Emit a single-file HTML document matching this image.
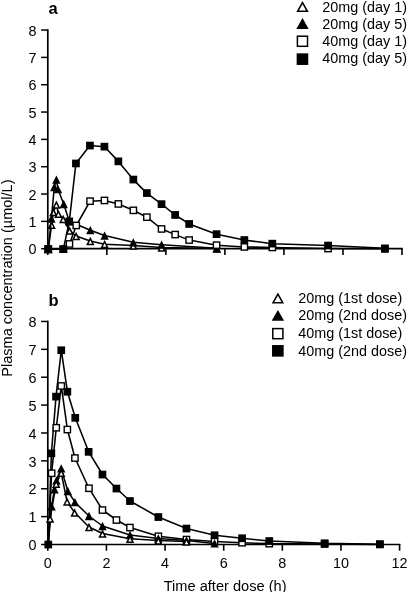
<!DOCTYPE html>
<html lang="en"><head><meta charset="utf-8"><title>Plasma concentration</title>
<style>html,body{margin:0;padding:0;background:#fff}svg{display:block}text{font-family:"Liberation Sans", Arial, sans-serif}</style>
</head><body>
<svg width="407" height="592" viewBox="0 0 407 592" font-family='"Liberation Sans", Arial, sans-serif' font-size="14.4" fill="#000">
<rect width="407" height="592" fill="#fff"/>
<line x1="47.8" y1="29.2" x2="47.8" y2="249.54999999999998" stroke="#000" stroke-width="1.7"/>
<line x1="46.949999999999996" y1="248.7" x2="402.8" y2="248.7" stroke="#000" stroke-width="1.7"/>
<line x1="41.099999999999994" y1="248.70" x2="47.8" y2="248.70" stroke="#000" stroke-width="1.5"/>
<text x="36.6" y="254.3" text-anchor="end">0</text>
<line x1="41.099999999999994" y1="221.37" x2="47.8" y2="221.37" stroke="#000" stroke-width="1.5"/>
<text x="36.6" y="227.0" text-anchor="end">1</text>
<line x1="41.099999999999994" y1="194.04" x2="47.8" y2="194.04" stroke="#000" stroke-width="1.5"/>
<text x="36.6" y="199.6" text-anchor="end">2</text>
<line x1="41.099999999999994" y1="166.71" x2="47.8" y2="166.71" stroke="#000" stroke-width="1.5"/>
<text x="36.6" y="172.3" text-anchor="end">3</text>
<line x1="41.099999999999994" y1="139.38" x2="47.8" y2="139.38" stroke="#000" stroke-width="1.5"/>
<text x="36.6" y="145.0" text-anchor="end">4</text>
<line x1="41.099999999999994" y1="112.05" x2="47.8" y2="112.05" stroke="#000" stroke-width="1.5"/>
<text x="36.6" y="117.7" text-anchor="end">5</text>
<line x1="41.099999999999994" y1="84.72" x2="47.8" y2="84.72" stroke="#000" stroke-width="1.5"/>
<text x="36.6" y="90.3" text-anchor="end">6</text>
<line x1="41.099999999999994" y1="57.39" x2="47.8" y2="57.39" stroke="#000" stroke-width="1.5"/>
<text x="36.6" y="63.0" text-anchor="end">7</text>
<line x1="41.099999999999994" y1="30.06" x2="47.8" y2="30.06" stroke="#000" stroke-width="1.5"/>
<text x="36.6" y="35.7" text-anchor="end">8</text>
<line x1="47.80" y1="248.7" x2="47.80" y2="254.89999999999998" stroke="#000" stroke-width="1.6"/>
<line x1="106.83" y1="248.7" x2="106.83" y2="254.89999999999998" stroke="#000" stroke-width="1.6"/>
<line x1="165.87" y1="248.7" x2="165.87" y2="254.89999999999998" stroke="#000" stroke-width="1.6"/>
<line x1="224.90" y1="248.7" x2="224.90" y2="254.89999999999998" stroke="#000" stroke-width="1.6"/>
<line x1="283.93" y1="248.7" x2="283.93" y2="254.89999999999998" stroke="#000" stroke-width="1.6"/>
<line x1="342.97" y1="248.7" x2="342.97" y2="254.89999999999998" stroke="#000" stroke-width="1.6"/>
<line x1="402.00" y1="248.7" x2="402.00" y2="254.89999999999998" stroke="#000" stroke-width="1.6"/>
<polyline points="48.3,249.0 51.6,224.9 53.4,212.0 56.4,204.7 58.4,213.8 63.2,219.0 69.6,230.5 76.1,236.0 90.3,241.0 104.6,244.2 133.3,245.5 161.6,247.5 217.0,248.6" fill="none" stroke="#000" stroke-width="1.55" stroke-linejoin="round"/>
<polygon points="48.30,244.85 52.50,253.15 44.10,253.15" fill="#000"/><polygon points="48.30,248.17 50.06,251.65 46.54,251.65" fill="#fff"/>
<polygon points="51.60,220.75 55.80,229.05 47.40,229.05" fill="#000"/><polygon points="51.60,224.07 53.36,227.55 49.84,227.55" fill="#fff"/>
<polygon points="53.40,207.85 57.60,216.15 49.20,216.15" fill="#000"/><polygon points="53.40,211.17 55.16,214.65 51.64,214.65" fill="#fff"/>
<polygon points="56.40,200.55 60.60,208.85 52.20,208.85" fill="#000"/><polygon points="56.40,203.87 58.16,207.35 54.64,207.35" fill="#fff"/>
<polygon points="58.40,209.65 62.60,217.95 54.20,217.95" fill="#000"/><polygon points="58.40,212.97 60.16,216.45 56.64,216.45" fill="#fff"/>
<polygon points="63.20,214.85 67.40,223.15 59.00,223.15" fill="#000"/><polygon points="63.20,218.17 64.96,221.65 61.44,221.65" fill="#fff"/>
<polygon points="69.60,226.35 73.80,234.65 65.40,234.65" fill="#000"/><polygon points="69.60,229.67 71.36,233.15 67.84,233.15" fill="#fff"/>
<polygon points="76.10,231.85 80.30,240.15 71.90,240.15" fill="#000"/><polygon points="76.10,235.17 77.86,238.65 74.34,238.65" fill="#fff"/>
<polygon points="90.30,236.85 94.50,245.15 86.10,245.15" fill="#000"/><polygon points="90.30,240.17 92.06,243.65 88.54,243.65" fill="#fff"/>
<polygon points="104.60,240.05 108.80,248.35 100.40,248.35" fill="#000"/><polygon points="104.60,243.37 106.36,246.85 102.84,246.85" fill="#fff"/>
<polygon points="133.30,241.35 137.50,249.65 129.10,249.65" fill="#000"/><polygon points="133.30,244.67 135.06,248.15 131.54,248.15" fill="#fff"/>
<polygon points="161.60,243.35 165.80,251.65 157.40,251.65" fill="#000"/><polygon points="161.60,246.67 163.36,250.15 159.84,250.15" fill="#fff"/>
<polygon points="217.00,244.45 221.20,252.75 212.80,252.75" fill="#000"/><polygon points="217.00,247.77 218.76,251.25 215.24,251.25" fill="#fff"/>
<polyline points="48.3,249.0 51.4,218.5 54.3,187.0 56.4,179.6 58.0,189.2 63.7,204.0 69.3,221.3 90.3,230.2 104.6,235.6 133.3,242.3 161.6,244.7 216.6,248.3" fill="none" stroke="#000" stroke-width="1.55" stroke-linejoin="round"/>
<polygon points="48.30,244.85 52.50,253.15 44.10,253.15" fill="#000"/>
<polygon points="51.40,214.35 55.60,222.65 47.20,222.65" fill="#000"/>
<polygon points="54.30,182.85 58.50,191.15 50.10,191.15" fill="#000"/>
<polygon points="56.40,175.45 60.60,183.75 52.20,183.75" fill="#000"/>
<polygon points="58.00,185.05 62.20,193.35 53.80,193.35" fill="#000"/>
<polygon points="63.70,199.85 67.90,208.15 59.50,208.15" fill="#000"/>
<polygon points="69.30,217.15 73.50,225.45 65.10,225.45" fill="#000"/>
<polygon points="90.30,226.05 94.50,234.35 86.10,234.35" fill="#000"/>
<polygon points="104.60,231.45 108.80,239.75 100.40,239.75" fill="#000"/>
<polygon points="133.30,238.15 137.50,246.45 129.10,246.45" fill="#000"/>
<polygon points="161.60,240.55 165.80,248.85 157.40,248.85" fill="#000"/>
<polygon points="216.60,244.15 220.80,252.45 212.40,252.45" fill="#000"/>
<polyline points="48.3,249.0 63.4,249.2 69.5,243.9 76.3,225.5 90.1,201.2 104.5,200.5 118.4,204.0 133.3,210.3 146.8,217.2 161.6,229.0 175.2,234.6 189.2,240.1 216.6,245.2 244.3,246.9 272.4,247.5 328.0,248.6 384.8,248.8" fill="none" stroke="#000" stroke-width="1.55" stroke-linejoin="round"/>
<rect x="45.1" y="245.8" width="6.3" height="6.3" fill="#fff" stroke="#000" stroke-width="1.4"/>
<rect x="60.2" y="246.0" width="6.3" height="6.3" fill="#fff" stroke="#000" stroke-width="1.4"/>
<rect x="66.3" y="240.8" width="6.3" height="6.3" fill="#fff" stroke="#000" stroke-width="1.4"/>
<rect x="73.1" y="222.3" width="6.3" height="6.3" fill="#fff" stroke="#000" stroke-width="1.4"/>
<rect x="86.9" y="198.0" width="6.3" height="6.3" fill="#fff" stroke="#000" stroke-width="1.4"/>
<rect x="101.3" y="197.3" width="6.3" height="6.3" fill="#fff" stroke="#000" stroke-width="1.4"/>
<rect x="115.2" y="200.8" width="6.3" height="6.3" fill="#fff" stroke="#000" stroke-width="1.4"/>
<rect x="130.2" y="207.2" width="6.3" height="6.3" fill="#fff" stroke="#000" stroke-width="1.4"/>
<rect x="143.7" y="214.0" width="6.3" height="6.3" fill="#fff" stroke="#000" stroke-width="1.4"/>
<rect x="158.4" y="225.8" width="6.3" height="6.3" fill="#fff" stroke="#000" stroke-width="1.4"/>
<rect x="172.0" y="231.4" width="6.3" height="6.3" fill="#fff" stroke="#000" stroke-width="1.4"/>
<rect x="186.0" y="236.9" width="6.3" height="6.3" fill="#fff" stroke="#000" stroke-width="1.4"/>
<rect x="213.4" y="242.0" width="6.3" height="6.3" fill="#fff" stroke="#000" stroke-width="1.4"/>
<rect x="241.2" y="243.8" width="6.3" height="6.3" fill="#fff" stroke="#000" stroke-width="1.4"/>
<rect x="269.2" y="244.3" width="6.3" height="6.3" fill="#fff" stroke="#000" stroke-width="1.4"/>
<rect x="324.9" y="245.4" width="6.3" height="6.3" fill="#fff" stroke="#000" stroke-width="1.4"/>
<rect x="381.7" y="245.7" width="6.3" height="6.3" fill="#fff" stroke="#000" stroke-width="1.4"/>
<polyline points="48.3,248.8 63.4,249.2 69.3,221.3 75.9,163.5 89.9,145.6 104.5,146.7 118.4,161.4 133.3,179.6 146.8,193.1 161.6,204.2 175.2,215.0 189.2,223.9 216.6,234.2 244.3,240.1 272.4,243.7 328.0,245.6 384.8,248.3" fill="none" stroke="#000" stroke-width="1.55" stroke-linejoin="round"/>
<rect x="45.1" y="245.7" width="6.3" height="6.3" fill="#000" stroke="#000" stroke-width="1.4"/>
<rect x="60.2" y="246.0" width="6.3" height="6.3" fill="#000" stroke="#000" stroke-width="1.4"/>
<rect x="66.1" y="218.2" width="6.3" height="6.3" fill="#000" stroke="#000" stroke-width="1.4"/>
<rect x="72.8" y="160.3" width="6.3" height="6.3" fill="#000" stroke="#000" stroke-width="1.4"/>
<rect x="86.8" y="142.4" width="6.3" height="6.3" fill="#000" stroke="#000" stroke-width="1.4"/>
<rect x="101.3" y="143.5" width="6.3" height="6.3" fill="#000" stroke="#000" stroke-width="1.4"/>
<rect x="115.2" y="158.2" width="6.3" height="6.3" fill="#000" stroke="#000" stroke-width="1.4"/>
<rect x="130.2" y="176.4" width="6.3" height="6.3" fill="#000" stroke="#000" stroke-width="1.4"/>
<rect x="143.7" y="189.9" width="6.3" height="6.3" fill="#000" stroke="#000" stroke-width="1.4"/>
<rect x="158.4" y="201.0" width="6.3" height="6.3" fill="#000" stroke="#000" stroke-width="1.4"/>
<rect x="172.0" y="211.8" width="6.3" height="6.3" fill="#000" stroke="#000" stroke-width="1.4"/>
<rect x="186.0" y="220.8" width="6.3" height="6.3" fill="#000" stroke="#000" stroke-width="1.4"/>
<rect x="213.4" y="231.0" width="6.3" height="6.3" fill="#000" stroke="#000" stroke-width="1.4"/>
<rect x="241.2" y="236.9" width="6.3" height="6.3" fill="#000" stroke="#000" stroke-width="1.4"/>
<rect x="269.2" y="240.5" width="6.3" height="6.3" fill="#000" stroke="#000" stroke-width="1.4"/>
<rect x="324.9" y="242.4" width="6.3" height="6.3" fill="#000" stroke="#000" stroke-width="1.4"/>
<rect x="381.7" y="245.2" width="6.3" height="6.3" fill="#000" stroke="#000" stroke-width="1.4"/>
<line x1="47.8" y1="320.7" x2="47.8" y2="545.35" stroke="#000" stroke-width="1.7"/>
<line x1="46.949999999999996" y1="544.5" x2="400.40000000000003" y2="544.5" stroke="#000" stroke-width="1.7"/>
<line x1="41.099999999999994" y1="544.50" x2="47.8" y2="544.50" stroke="#000" stroke-width="1.5"/>
<text x="36.6" y="550.1" text-anchor="end">0</text>
<line x1="41.099999999999994" y1="516.62" x2="47.8" y2="516.62" stroke="#000" stroke-width="1.5"/>
<text x="36.6" y="522.2" text-anchor="end">1</text>
<line x1="41.099999999999994" y1="488.74" x2="47.8" y2="488.74" stroke="#000" stroke-width="1.5"/>
<text x="36.6" y="494.3" text-anchor="end">2</text>
<line x1="41.099999999999994" y1="460.86" x2="47.8" y2="460.86" stroke="#000" stroke-width="1.5"/>
<text x="36.6" y="466.5" text-anchor="end">3</text>
<line x1="41.099999999999994" y1="432.98" x2="47.8" y2="432.98" stroke="#000" stroke-width="1.5"/>
<text x="36.6" y="438.6" text-anchor="end">4</text>
<line x1="41.099999999999994" y1="405.10" x2="47.8" y2="405.10" stroke="#000" stroke-width="1.5"/>
<text x="36.6" y="410.7" text-anchor="end">5</text>
<line x1="41.099999999999994" y1="377.22" x2="47.8" y2="377.22" stroke="#000" stroke-width="1.5"/>
<text x="36.6" y="382.8" text-anchor="end">6</text>
<line x1="41.099999999999994" y1="349.34" x2="47.8" y2="349.34" stroke="#000" stroke-width="1.5"/>
<text x="36.6" y="354.9" text-anchor="end">7</text>
<line x1="41.099999999999994" y1="321.46" x2="47.8" y2="321.46" stroke="#000" stroke-width="1.5"/>
<text x="36.6" y="327.1" text-anchor="end">8</text>
<line x1="47.80" y1="544.5" x2="47.80" y2="550.7" stroke="#000" stroke-width="1.6"/>
<text x="47.8" y="567.9" text-anchor="middle">0</text>
<line x1="106.43" y1="544.5" x2="106.43" y2="550.7" stroke="#000" stroke-width="1.6"/>
<text x="106.4" y="567.9" text-anchor="middle">2</text>
<line x1="165.07" y1="544.5" x2="165.07" y2="550.7" stroke="#000" stroke-width="1.6"/>
<text x="165.1" y="567.9" text-anchor="middle">4</text>
<line x1="223.70" y1="544.5" x2="223.70" y2="550.7" stroke="#000" stroke-width="1.6"/>
<text x="223.7" y="567.9" text-anchor="middle">6</text>
<line x1="282.33" y1="544.5" x2="282.33" y2="550.7" stroke="#000" stroke-width="1.6"/>
<text x="282.3" y="567.9" text-anchor="middle">8</text>
<line x1="340.97" y1="544.5" x2="340.97" y2="550.7" stroke="#000" stroke-width="1.6"/>
<text x="341.0" y="567.9" text-anchor="middle">10</text>
<line x1="399.60" y1="544.5" x2="399.60" y2="550.7" stroke="#000" stroke-width="1.6"/>
<text x="399.6" y="567.9" text-anchor="middle">12</text>
<polyline points="48.3,544.5 51.4,453.3 56.0,396.6 61.3,350.2 67.4,391.7 75.3,417.8 88.7,451.8 102.5,474.5 116.5,488.5 130.0,501.0 158.3,517.0 186.5,528.5 214.6,535.2 242.1,538.3 269.2,541.0 324.6,543.3 379.8,544.3" fill="none" stroke="#000" stroke-width="1.55" stroke-linejoin="round"/>
<polyline points="48.3,544.5 51.6,473.2 56.3,427.7 61.3,385.9 67.4,429.5 75.0,458.0 88.9,488.2 102.5,510.0 116.5,520.0 130.0,527.5 158.3,536.2 186.5,539.5 214.6,541.5 242.1,542.8 269.2,543.6 324.6,544.0 379.8,544.4" fill="none" stroke="#000" stroke-width="1.55" stroke-linejoin="round"/>
<rect x="48.5" y="470.1" width="6.3" height="6.3" fill="#fff" stroke="#000" stroke-width="1.4"/>
<rect x="53.1" y="424.6" width="6.3" height="6.3" fill="#fff" stroke="#000" stroke-width="1.4"/>
<rect x="58.1" y="382.8" width="6.3" height="6.3" fill="#fff" stroke="#000" stroke-width="1.4"/>
<rect x="64.2" y="426.4" width="6.3" height="6.3" fill="#fff" stroke="#000" stroke-width="1.4"/>
<rect x="71.8" y="454.9" width="6.3" height="6.3" fill="#fff" stroke="#000" stroke-width="1.4"/>
<rect x="85.8" y="485.1" width="6.3" height="6.3" fill="#fff" stroke="#000" stroke-width="1.4"/>
<rect x="99.3" y="506.9" width="6.3" height="6.3" fill="#fff" stroke="#000" stroke-width="1.4"/>
<rect x="113.3" y="516.9" width="6.3" height="6.3" fill="#fff" stroke="#000" stroke-width="1.4"/>
<rect x="126.8" y="524.4" width="6.3" height="6.3" fill="#fff" stroke="#000" stroke-width="1.4"/>
<rect x="155.2" y="533.1" width="6.3" height="6.3" fill="#fff" stroke="#000" stroke-width="1.4"/>
<rect x="183.3" y="536.4" width="6.3" height="6.3" fill="#fff" stroke="#000" stroke-width="1.4"/>
<rect x="211.4" y="538.4" width="6.3" height="6.3" fill="#fff" stroke="#000" stroke-width="1.4"/>
<rect x="238.9" y="539.6" width="6.3" height="6.3" fill="#fff" stroke="#000" stroke-width="1.4"/>
<rect x="266.1" y="540.5" width="6.3" height="6.3" fill="#fff" stroke="#000" stroke-width="1.4"/>
<rect x="321.5" y="540.9" width="6.3" height="6.3" fill="#fff" stroke="#000" stroke-width="1.4"/>
<rect x="376.7" y="541.2" width="6.3" height="6.3" fill="#fff" stroke="#000" stroke-width="1.4"/>
<rect x="45.1" y="541.4" width="6.3" height="6.3" fill="#000" stroke="#000" stroke-width="1.4"/>
<rect x="48.2" y="450.2" width="6.3" height="6.3" fill="#000" stroke="#000" stroke-width="1.4"/>
<rect x="52.9" y="393.5" width="6.3" height="6.3" fill="#000" stroke="#000" stroke-width="1.4"/>
<rect x="58.1" y="347.1" width="6.3" height="6.3" fill="#000" stroke="#000" stroke-width="1.4"/>
<rect x="64.2" y="388.6" width="6.3" height="6.3" fill="#000" stroke="#000" stroke-width="1.4"/>
<rect x="72.1" y="414.7" width="6.3" height="6.3" fill="#000" stroke="#000" stroke-width="1.4"/>
<rect x="85.5" y="448.7" width="6.3" height="6.3" fill="#000" stroke="#000" stroke-width="1.4"/>
<rect x="99.3" y="471.4" width="6.3" height="6.3" fill="#000" stroke="#000" stroke-width="1.4"/>
<rect x="113.3" y="485.4" width="6.3" height="6.3" fill="#000" stroke="#000" stroke-width="1.4"/>
<rect x="126.8" y="497.9" width="6.3" height="6.3" fill="#000" stroke="#000" stroke-width="1.4"/>
<rect x="155.2" y="513.9" width="6.3" height="6.3" fill="#000" stroke="#000" stroke-width="1.4"/>
<rect x="183.3" y="525.4" width="6.3" height="6.3" fill="#000" stroke="#000" stroke-width="1.4"/>
<rect x="211.4" y="532.1" width="6.3" height="6.3" fill="#000" stroke="#000" stroke-width="1.4"/>
<rect x="238.9" y="535.1" width="6.3" height="6.3" fill="#000" stroke="#000" stroke-width="1.4"/>
<rect x="266.1" y="537.9" width="6.3" height="6.3" fill="#000" stroke="#000" stroke-width="1.4"/>
<rect x="321.5" y="540.1" width="6.3" height="6.3" fill="#000" stroke="#000" stroke-width="1.4"/>
<rect x="376.7" y="541.1" width="6.3" height="6.3" fill="#000" stroke="#000" stroke-width="1.4"/>
<polyline points="48.2,544.3 51.6,506.3 54.5,489.3 56.4,480.5 61.2,468.4 67.8,491.0 74.9,502.2 89.0,516.0 102.5,526.0 130.0,535.0 158.3,538.5 186.5,540.5 214.6,543.4" fill="none" stroke="#000" stroke-width="1.55" stroke-linejoin="round"/>
<polygon points="51.60,502.15 55.80,510.45 47.40,510.45" fill="#000"/>
<polygon points="54.50,485.15 58.70,493.45 50.30,493.45" fill="#000"/>
<polygon points="56.40,476.35 60.60,484.65 52.20,484.65" fill="#000"/>
<polygon points="61.20,464.25 65.40,472.55 57.00,472.55" fill="#000"/>
<polygon points="67.80,486.85 72.00,495.15 63.60,495.15" fill="#000"/>
<polygon points="74.90,498.05 79.10,506.35 70.70,506.35" fill="#000"/>
<polygon points="89.00,511.85 93.20,520.15 84.80,520.15" fill="#000"/>
<polygon points="102.50,521.85 106.70,530.15 98.30,530.15" fill="#000"/>
<polygon points="130.00,530.85 134.20,539.15 125.80,539.15" fill="#000"/>
<polygon points="158.30,534.35 162.50,542.65 154.10,542.65" fill="#000"/>
<polygon points="186.50,536.35 190.70,544.65 182.30,544.65" fill="#000"/>
<polygon points="214.60,539.25 218.80,547.55 210.40,547.55" fill="#000"/>
<polyline points="48.2,544.3 50.1,518.5 56.2,483.8 61.2,472.8 67.1,501.7 74.6,512.5 89.0,527.0 102.5,533.5 130.0,538.8 158.3,540.5 186.5,541.6" fill="none" stroke="#000" stroke-width="1.55" stroke-linejoin="round"/>
<polygon points="50.10,514.35 54.30,522.65 45.90,522.65" fill="#000"/><polygon points="50.10,517.67 51.86,521.15 48.34,521.15" fill="#fff"/>
<polygon points="56.20,479.65 60.40,487.95 52.00,487.95" fill="#000"/><polygon points="56.20,482.97 57.96,486.45 54.44,486.45" fill="#fff"/>
<polygon points="61.20,468.65 65.40,476.95 57.00,476.95" fill="#000"/><polygon points="61.20,471.97 62.96,475.45 59.44,475.45" fill="#fff"/>
<polygon points="67.10,497.55 71.30,505.85 62.90,505.85" fill="#000"/><polygon points="67.10,500.87 68.86,504.35 65.34,504.35" fill="#fff"/>
<polygon points="74.60,508.35 78.80,516.65 70.40,516.65" fill="#000"/><polygon points="74.60,511.67 76.36,515.15 72.84,515.15" fill="#fff"/>
<polygon points="89.00,522.85 93.20,531.15 84.80,531.15" fill="#000"/><polygon points="89.00,526.17 90.76,529.65 87.24,529.65" fill="#fff"/>
<polygon points="102.50,529.35 106.70,537.65 98.30,537.65" fill="#000"/><polygon points="102.50,532.67 104.26,536.15 100.74,536.15" fill="#fff"/>
<polygon points="130.00,534.65 134.20,542.95 125.80,542.95" fill="#000"/><polygon points="130.00,537.97 131.76,541.45 128.24,541.45" fill="#fff"/>
<polygon points="158.30,536.35 162.50,544.65 154.10,544.65" fill="#000"/><polygon points="158.30,539.67 160.06,543.15 156.54,543.15" fill="#fff"/>
<polygon points="186.50,537.45 190.70,545.75 182.30,545.75" fill="#000"/><polygon points="186.50,540.77 188.26,544.25 184.74,544.25" fill="#fff"/>
<polygon points="302.50,1.05 308.70,11.95 296.30,11.95" fill="#000"/><polygon points="302.50,4.18 306.04,10.40 298.96,10.40" fill="#fff"/>
<text x="322.3" y="11.5">20mg (day 1)</text>
<polygon points="302.50,18.05 308.70,28.95 296.30,28.95" fill="#000"/>
<text x="322.3" y="28.7">20mg (day 5)</text>
<rect x="297.4" y="36.2" width="10.1" height="10.1" fill="#fff" stroke="#000" stroke-width="1.5"/>
<text x="322.3" y="46.0">40mg (day 1)</text>
<rect x="297.4" y="54.1" width="10.1" height="10.1" fill="#000" stroke="#000" stroke-width="1.5"/>
<text x="322.3" y="63.4">40mg (day 5)</text>
<polygon points="277.90,292.55 284.10,303.45 271.70,303.45" fill="#000"/><polygon points="277.90,295.68 281.44,301.90 274.36,301.90" fill="#fff"/>
<text x="298.2" y="303.2">20mg (1st dose)</text>
<polygon points="277.90,309.95 284.10,320.85 271.70,320.85" fill="#000"/>
<text x="298.2" y="320.4">20mg (2nd dose)</text>
<rect x="272.8" y="328.6" width="10.1" height="10.1" fill="#fff" stroke="#000" stroke-width="1.5"/>
<text x="298.2" y="337.8">40mg (1st dose)</text>
<rect x="272.8" y="345.8" width="10.1" height="10.1" fill="#000" stroke="#000" stroke-width="1.5"/>
<text x="298.2" y="355.5">40mg (2nd dose)</text>
<text x="48.5" y="13.6" font-weight="bold" font-size="16.5">a</text>
<text x="48.5" y="305.8" font-weight="bold" font-size="16.5">b</text>
<text x="225.1" y="590.5" text-anchor="middle" font-size="14.62">Time after dose (h)</text>
<text transform="translate(11.7,278.1) rotate(-90)" text-anchor="middle" font-size="14.52">Plasma concentration (µmol/L)</text>
</svg>
</body></html>
